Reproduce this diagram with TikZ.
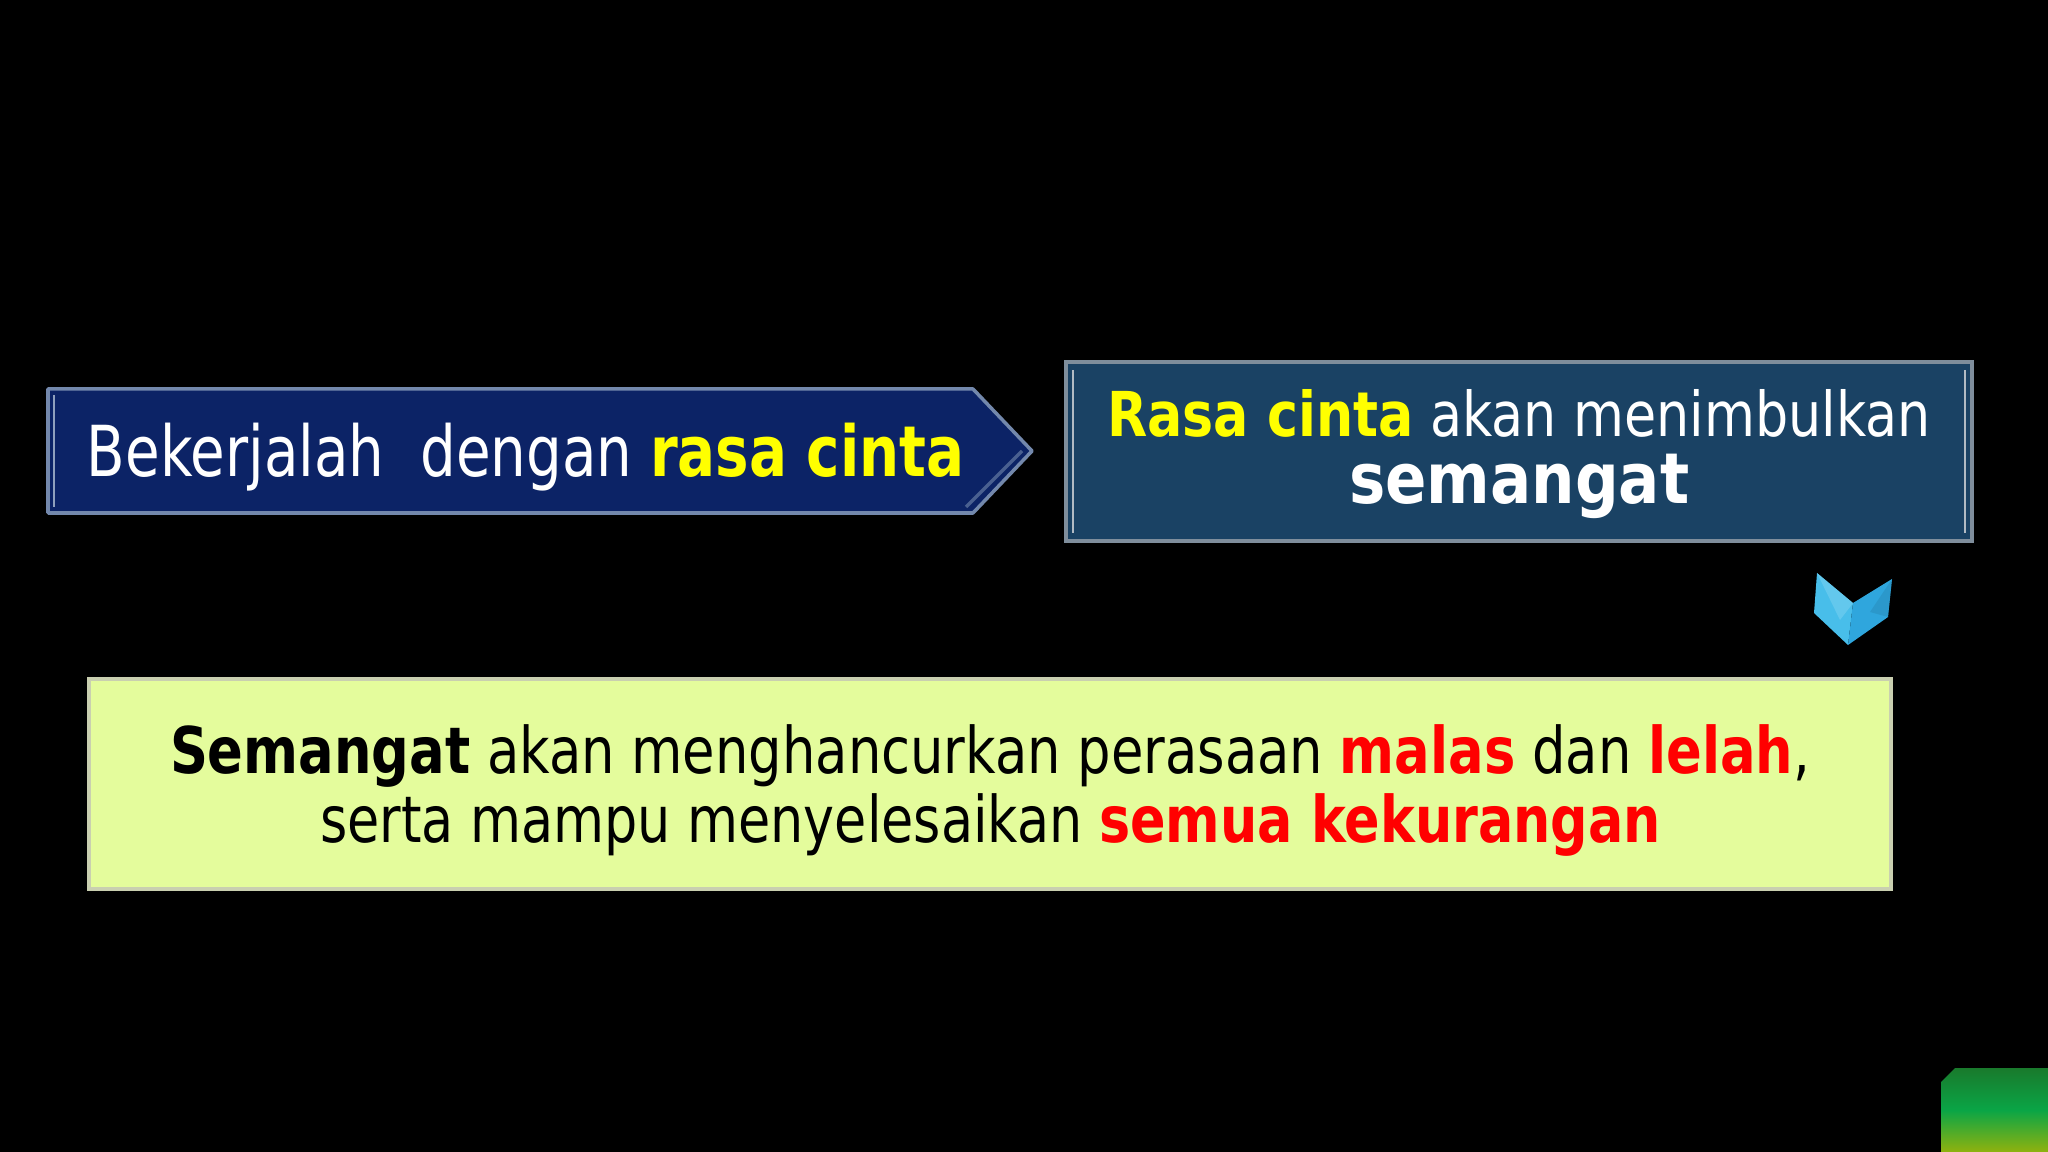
\documentclass[tikz,border=0pt]{standalone}
\usepackage{fontspec}
\setmainfont{DejaVu Sans}
\usepackage{graphicx}
\definecolor{navyA}{HTML}{0C2366}
\definecolor{navyEdge}{HTML}{7388AC}
\definecolor{steelA}{HTML}{1A4264}
\definecolor{steelEdge}{HTML}{7F8E9C}
\definecolor{limeA}{HTML}{E4FC9C}
\definecolor{limeEdge}{HTML}{C9CFB0}
\definecolor{hiYellow}{HTML}{FFFF00}
\definecolor{hiRed}{HTML}{FF0000}
\definecolor{chevL}{HTML}{48BEEA}
\definecolor{chevR}{HTML}{2FA6DD}
\definecolor{grTop}{HTML}{197A2C}
\definecolor{grMid}{HTML}{0AA546}
\definecolor{grBot}{HTML}{90B20E}
\newcommand{\fitw}[2]{\resizebox{#1}{\height}{#2}}
\tikzset{
  txt/.style={inner sep=0pt, outer sep=0pt, anchor=base west},
}
\begin{document}
\begin{tikzpicture}[x=0.01cm,y=-0.01cm]
\fill[black] (0,0) rectangle (2048,1152);
\useasboundingbox (0,0) rectangle (2048,1152);
% box 1: arrow pentagon
\fill[navyA] (48,389) -- (973,389) -- (1032,451) -- (973,513) -- (48,513) -- cycle;
\draw[navyEdge, line width=0.035cm, line join=round] (48,389) -- (973,389) -- (1032,451) -- (973,513) -- (48,513) -- cycle;
\draw[navyEdge!80!white, line width=0.025cm] (54,395) -- (54,507);
\draw[navyEdge!60!navyA, line width=0.035cm] (966,507) -- (1022,451);
\node[txt, text=white, font=\fontsize{20pt}{24pt}\selectfont] (t1) at (87,477)
  {\fitw{8.77cm}{Bekerjalah\ \ dengan \textcolor{hiYellow}{\bfseries rasa cinta}}};
% box 2
\fill[steelA] (1066,362) rectangle (1972,541);
\draw[steelEdge, line width=0.04cm] (1066,362) rectangle (1972,541);
\draw[steelEdge!60!white, line width=0.025cm] (1073,370) -- (1073,533);
\draw[steelEdge!60!white, line width=0.025cm] (1965,370) -- (1965,533);
\node[txt, text=white, font=\fontsize{17.6pt}{21pt}\selectfont] (t2a) at (1107,437)
  {\fitw{8.23cm}{\textcolor{hiYellow}{\bfseries Rasa cinta} akan menimbulkan}};
\node[txt, text=white, font=\fontsize{20pt}{24pt}\selectfont\bfseries] (t2b) at (1349,504)
  {\fitw{3.40cm}{semangat}};
% chevron
\coordinate (cLT) at (1817,573);
\coordinate (cLB) at (1814,613);
\coordinate (cB) at (1848,645);
\coordinate (cRB) at (1888,617);
\coordinate (cRT) at (1892,579);
\coordinate (cN) at (1853,603);
\fill[chevL] (cLT) -- (cN) -- (cB) -- (cLB) -- cycle;
\fill[chevR] (cN) -- (cRT) -- (cRB) -- (cB) -- cycle;
\fill[chevL!70!white, opacity=0.5] (cLT) -- (cN) -- (1840,620) -- cycle;
\fill[chevR!80!black, opacity=0.4] (cRT) -- (cRB) -- (1870,612) -- cycle;
% box 3
\fill[limeA] (89,679) rectangle (1891,889);
\draw[limeEdge, line width=0.04cm] (89,679) rectangle (1891,889);
\node[txt, text=black, font=\fontsize{18.3pt}{22pt}\selectfont] (t3a) at (170,773)
  {\fitw{16.39cm}{\textbf{Semangat} akan menghancurkan perasaan \textcolor{hiRed}{\bfseries malas} dan \textcolor{hiRed}{\bfseries lelah},}};
\node[txt, text=black, font=\fontsize{18.3pt}{22pt}\selectfont] (t3b) at (320,842)
  {\fitw{13.40cm}{serta mampu menyelesaikan \textcolor{hiRed}{\bfseries semua kekurangan}}};
% green corner
\shade[top color=grTop, bottom color=grBot, middle color=grMid] (1941,1082) -- (1955,1068) -- (2048,1068) -- (2048,1152) -- (1941,1152) -- cycle;
\end{tikzpicture}
\end{document}
